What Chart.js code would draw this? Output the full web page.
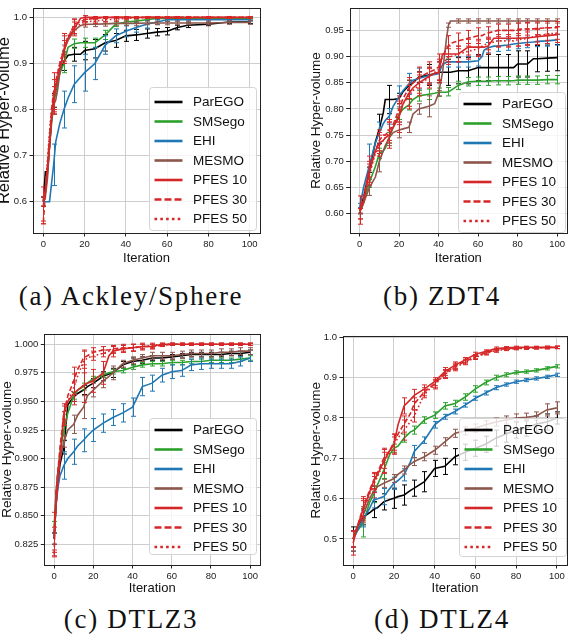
<!DOCTYPE html>
<html>
<head>
<meta charset="utf-8">
<script src="https://cdn.jsdelivr.net/npm/chart.js@4.4.1/dist/chart.umd.min.js"></script>
<style>
  body { margin: 0; background: #fff; width: 574px; height: 636px; position: relative; overflow: hidden; }
  canvas { position: absolute; }
  .cap { position: absolute; font-family: "Liberation Serif", "Times New Roman", serif; font-size: 27px;
         line-height: 27px; letter-spacing: 1.7px; white-space: nowrap; transform: translateX(-50%); color: #111; }
</style>
</head>
<body>
<canvas id="ca" width="287" height="267" style="left:0;top:0"></canvas>
<canvas id="cb" width="287" height="267" style="left:287px;top:0"></canvas>
<canvas id="cc" width="287" height="283" style="left:0;top:315px"></canvas>
<canvas id="cd" width="287" height="283" style="left:287px;top:315px"></canvas>
<div class="cap" style="left:131px;top:283px">(a) Ackley/Sphere</div>
<div class="cap" style="left:442px;top:283px">(b) ZDT4</div>
<div class="cap" style="left:131px;top:606px">(c) DTLZ3</div>
<div class="cap" style="left:442px;top:606px">(d) DTLZ4</div>
<script>
  // ---- shared ----
  var NAMES = ['ParEGO', 'SMSego', 'EHI', 'MESMO', 'PFES 10', 'PFES 30', 'PFES 50'];
  var ERR_X = [0, 5, 10, 15, 20, 25, 30, 35, 40, 45, 50, 55, 60, 65, 70, 75, 80, 85, 90, 95, 100];
  var X_TICKS = [0, 20, 40, 60, 80, 100];

  // ---- (a) Ackley/Sphere ----
  var A_X = [0, 1, 2, 3, 4, 5, 6, 7, 8, 10, 12, 15, 18, 20, 25, 30, 35, 40, 45, 50, 55, 60, 65, 70, 80, 90, 100];
  var A_PAREGO = [0.600, 0.665, 0.665, 0.720, 0.780, 0.820, 0.840, 0.860, 0.880, 0.905, 0.918, 0.920, 0.920, 0.928, 0.932, 0.945, 0.950, 0.960, 0.962, 0.965, 0.968, 0.970, 0.978, 0.983, 0.985, 0.990, 0.990];
  var A_SMSEGO = [0.600, 0.620, 0.660, 0.720, 0.770, 0.810, 0.840, 0.865, 0.880, 0.900, 0.935, 0.943, 0.945, 0.945, 0.945, 0.962, 0.985, 0.990, 0.992, 0.995, 0.998, 0.998, 0.998, 0.998, 0.998, 0.998, 0.998];
  var A_EHI = [0.600, 0.600, 0.600, 0.600, 0.640, 0.680, 0.730, 0.750, 0.770, 0.800, 0.825, 0.855, 0.870, 0.880, 0.900, 0.940, 0.960, 0.970, 0.978, 0.985, 0.990, 0.995, 0.995, 0.995, 0.995, 0.995, 0.995];
  var A_MESMO = [0.600, 0.610, 0.650, 0.720, 0.780, 0.810, 0.820, 0.845, 0.880, 0.930, 0.950, 0.972, 0.982, 0.985, 0.985, 0.986, 0.987, 0.987, 0.987, 0.988, 0.988, 0.988, 0.988, 0.988, 0.988, 0.989, 0.989];
  var A_PFES10 = [0.592, 0.620, 0.670, 0.720, 0.780, 0.820, 0.850, 0.870, 0.890, 0.925, 0.955, 0.975, 0.998, 1.000, 1.000, 1.000, 1.000, 1.000, 1.000, 1.000, 1.000, 1.000, 1.000, 1.000, 1.000, 1.000, 1.000];
  var A_PFES30 = [0.555, 0.620, 0.680, 0.740, 0.800, 0.840, 0.860, 0.880, 0.900, 0.930, 0.955, 0.985, 0.990, 0.995, 0.998, 1.000, 1.000, 1.000, 1.000, 1.000, 1.000, 1.000, 1.000, 1.000, 1.000, 1.000, 1.000];
  var A_PFES50 = [0.600, 0.630, 0.690, 0.750, 0.800, 0.830, 0.860, 0.880, 0.900, 0.935, 0.960, 0.980, 0.985, 0.990, 0.992, 0.995, 0.996, 0.998, 0.999, 1.000, 1.000, 1.000, 1.000, 1.000, 1.000, 1.000, 1.000];
  var A_PAREGO_ERR = [0.010, 0.015, 0.020, 0.015, 0.020, 0.020, 0.018, 0.015, 0.012, 0.012, 0.010, 0.008, 0.008, 0.005, 0.005, 0.004, 0.003, 0.003, 0.003, 0.003, 0.003];
  var A_SMSEGO_ERR = [0.010, 0.020, 0.020, 0.010, 0.010, 0.010, 0.010, 0.005, 0.004, 0.003, 0.002, 0.002, 0.002, 0.002, 0.002, 0.002, 0.002, 0.002, 0.002, 0.002, 0.002];
  var A_EHI_ERR = [0.010, 0.045, 0.040, 0.040, 0.040, 0.035, 0.020, 0.015, 0.012, 0.010, 0.008, 0.005, 0.004, 0.003, 0.003, 0.003, 0.003, 0.003, 0.003, 0.003, 0.003];
  var A_MESMO_ERR = [0.010, 0.020, 0.010, 0.008, 0.006, 0.005, 0.005, 0.005, 0.005, 0.005, 0.004, 0.004, 0.004, 0.004, 0.004, 0.004, 0.004, 0.004, 0.004, 0.004, 0.004];
  var A_PFES10_ERR = [0.040, 0.030, 0.025, 0.015, 0.004, 0.002, 0.002, 0.002, 0.002, 0.002, 0.002, 0.002, 0.002, 0.002, 0.002, 0.002, 0.002, 0.002, 0.002, 0.002, 0.002];
  var A_PFES30_ERR = [0.003, 0.040, 0.030, 0.012, 0.005, 0.003, 0.002, 0.002, 0.002, 0.002, 0.002, 0.002, 0.002, 0.002, 0.002, 0.002, 0.002, 0.002, 0.002, 0.002, 0.002];
  var A_PFES50_ERR = [0.010, 0.035, 0.030, 0.015, 0.006, 0.005, 0.005, 0.004, 0.003, 0.002, 0.002, 0.002, 0.002, 0.002, 0.002, 0.002, 0.002, 0.002, 0.002, 0.002, 0.002];
  var A_YTICKS = [0.6, 0.7, 0.8, 0.9, 1.0];

  // ---- (b) ZDT4 ----
  var B_X = [0, 2, 5, 8, 10, 12, 13, 15, 17, 20, 22, 25, 27, 30, 35, 38, 40, 42, 44, 45, 46, 50, 55, 60, 62, 63, 65, 68, 70, 75, 78, 80, 85, 88, 90, 95, 100];
  var B_PAREGO = [0.606, 0.630, 0.684, 0.737, 0.762, 0.793, 0.818, 0.818, 0.818, 0.820, 0.833, 0.845, 0.850, 0.861, 0.865, 0.867, 0.870, 0.870, 0.870, 0.870, 0.870, 0.873, 0.873, 0.879, 0.879, 0.879, 0.879, 0.879, 0.879, 0.879, 0.879, 0.886, 0.886, 0.896, 0.896, 0.897, 0.898];
  var B_SMSEGO = [0.605, 0.620, 0.660, 0.690, 0.715, 0.720, 0.725, 0.745, 0.765, 0.790, 0.800, 0.808, 0.818, 0.825, 0.828, 0.830, 0.832, 0.832, 0.832, 0.833, 0.835, 0.845, 0.852, 0.853, 0.853, 0.853, 0.853, 0.854, 0.854, 0.854, 0.854, 0.855, 0.855, 0.855, 0.855, 0.856, 0.856];
  var B_EHI = [0.610, 0.650, 0.693, 0.735, 0.755, 0.772, 0.778, 0.786, 0.805, 0.824, 0.835, 0.848, 0.855, 0.858, 0.864, 0.866, 0.867, 0.885, 0.889, 0.890, 0.890, 0.890, 0.890, 0.892, 0.900, 0.912, 0.917, 0.920, 0.920, 0.922, 0.924, 0.925, 0.927, 0.928, 0.929, 0.930, 0.932];
  var B_MESMO = [0.605, 0.620, 0.650, 0.670, 0.700, 0.720, 0.730, 0.745, 0.755, 0.760, 0.762, 0.765, 0.790, 0.800, 0.805, 0.810, 0.830, 0.870, 0.935, 0.960, 0.968, 0.968, 0.968, 0.968, 0.968, 0.968, 0.968, 0.968, 0.968, 0.968, 0.968, 0.968, 0.968, 0.968, 0.968, 0.968, 0.968];
  var B_PFES10 = [0.607, 0.625, 0.680, 0.720, 0.735, 0.740, 0.745, 0.750, 0.765, 0.785, 0.810, 0.830, 0.840, 0.850, 0.862, 0.868, 0.870, 0.905, 0.905, 0.905, 0.905, 0.905, 0.918, 0.918, 0.918, 0.918, 0.920, 0.935, 0.935, 0.935, 0.935, 0.935, 0.936, 0.937, 0.938, 0.940, 0.942];
  var B_PFES30 = [0.600, 0.630, 0.690, 0.720, 0.740, 0.750, 0.750, 0.760, 0.770, 0.800, 0.820, 0.840, 0.850, 0.860, 0.870, 0.875, 0.880, 0.900, 0.915, 0.920, 0.925, 0.930, 0.935, 0.940, 0.940, 0.942, 0.945, 0.948, 0.950, 0.950, 0.950, 0.952, 0.953, 0.953, 0.954, 0.955, 0.955];
  var B_PFES50 = [0.600, 0.620, 0.675, 0.715, 0.730, 0.740, 0.745, 0.755, 0.770, 0.790, 0.810, 0.825, 0.835, 0.845, 0.860, 0.870, 0.875, 0.885, 0.895, 0.900, 0.900, 0.905, 0.910, 0.915, 0.920, 0.922, 0.925, 0.928, 0.930, 0.930, 0.930, 0.932, 0.935, 0.938, 0.940, 0.943, 0.945];
  var B_PAREGO_ERR = [0.005, 0.005, 0.028, 0.027, 0.010, 0.010, 0.010, 0.020, 0.020, 0.025, 0.025, 0.025, 0.025, 0.025, 0.025, 0.025, 0.025, 0.025, 0.025, 0.025, 0.025];
  var B_SMSEGO_ERR = [0.005, 0.010, 0.010, 0.010, 0.010, 0.010, 0.010, 0.010, 0.008, 0.008, 0.008, 0.008, 0.008, 0.008, 0.008, 0.008, 0.008, 0.008, 0.008, 0.008, 0.008];
  var B_EHI_ERR = [0.010, 0.040, 0.020, 0.015, 0.020, 0.020, 0.020, 0.015, 0.012, 0.010, 0.010, 0.010, 0.010, 0.010, 0.010, 0.010, 0.010, 0.010, 0.010, 0.010, 0.010];
  var B_MESMO_ERR = [0.005, 0.015, 0.020, 0.015, 0.015, 0.010, 0.010, 0.020, 0.005, 0.004, 0.004, 0.004, 0.004, 0.004, 0.004, 0.004, 0.004, 0.004, 0.004, 0.004, 0.004];
  var B_PFES10_ERR = [0.027, 0.020, 0.020, 0.025, 0.030, 0.030, 0.020, 0.015, 0.020, 0.015, 0.015, 0.015, 0.015, 0.015, 0.015, 0.015, 0.015, 0.015, 0.015, 0.015, 0.015];
  var B_PFES30_ERR = [0.010, 0.020, 0.020, 0.020, 0.025, 0.020, 0.020, 0.020, 0.025, 0.020, 0.015, 0.015, 0.015, 0.012, 0.012, 0.012, 0.012, 0.012, 0.012, 0.012, 0.012];
  var B_PFES50_ERR = [0.010, 0.020, 0.020, 0.020, 0.020, 0.020, 0.020, 0.020, 0.020, 0.015, 0.015, 0.015, 0.015, 0.012, 0.012, 0.012, 0.012, 0.012, 0.012, 0.012, 0.012];
  var B_YTICKS = [0.60, 0.65, 0.70, 0.75, 0.80, 0.85, 0.90, 0.95];

  // ---- (c) DTLZ3 ----
  var C_X = [0, 1, 2, 3, 5, 7, 10, 12, 15, 17, 20, 25, 28, 30, 35, 40, 45, 50, 55, 60, 65, 70, 75, 80, 85, 90, 95, 100];
  var C_PAREGO = [0.830, 0.860, 0.880, 0.895, 0.910, 0.947, 0.954, 0.957, 0.960, 0.963, 0.966, 0.972, 0.974, 0.975, 0.982, 0.985, 0.986, 0.988, 0.988, 0.989, 0.990, 0.991, 0.991, 0.991, 0.991, 0.992, 0.992, 0.993];
  var C_SMSEGO = [0.840, 0.870, 0.890, 0.905, 0.925, 0.940, 0.955, 0.960, 0.963, 0.966, 0.970, 0.973, 0.975, 0.976, 0.977, 0.980, 0.982, 0.983, 0.983, 0.984, 0.984, 0.985, 0.985, 0.986, 0.986, 0.986, 0.987, 0.988];
  var C_EHI = [0.830, 0.860, 0.875, 0.885, 0.894, 0.900, 0.906, 0.911, 0.916, 0.920, 0.925, 0.931, 0.934, 0.936, 0.940, 0.945, 0.963, 0.966, 0.973, 0.976, 0.977, 0.982, 0.983, 0.983, 0.983, 0.983, 0.985, 0.988];
  var C_MESMO = [0.830, 0.870, 0.890, 0.900, 0.915, 0.925, 0.930, 0.938, 0.945, 0.955, 0.960, 0.968, 0.972, 0.975, 0.983, 0.986, 0.988, 0.990, 0.990, 0.990, 0.991, 0.992, 0.992, 0.992, 0.993, 0.993, 0.994, 0.994];
  var C_PFES10 = [0.834, 0.860, 0.880, 0.900, 0.940, 0.950, 0.957, 0.960, 0.964, 0.966, 0.968, 0.975, 0.990, 0.994, 0.996, 0.997, 0.998, 0.998, 1.000, 1.000, 1.000, 1.000, 1.000, 1.000, 1.000, 1.000, 1.000, 1.000];
  var C_PFES30 = [0.816, 0.870, 0.890, 0.910, 0.940, 0.955, 0.968, 0.978, 0.988, 0.990, 0.993, 0.995, 0.995, 0.996, 0.997, 0.997, 0.998, 0.998, 0.999, 1.000, 1.000, 1.000, 1.000, 1.000, 1.000, 1.000, 1.000, 1.000];
  var C_PFES50 = [0.830, 0.865, 0.885, 0.905, 0.935, 0.950, 0.962, 0.972, 0.985, 0.988, 0.990, 0.992, 0.994, 0.995, 0.996, 0.997, 0.998, 0.999, 1.000, 1.000, 1.000, 1.000, 1.000, 1.000, 1.000, 1.000, 1.000, 1.000];
  var C_PAREGO_ERR = [0.005, 0.006, 0.004, 0.004, 0.004, 0.004, 0.004, 0.003, 0.003, 0.003, 0.002, 0.002, 0.002, 0.002, 0.002, 0.002, 0.002, 0.002, 0.002, 0.002, 0.002];
  var C_SMSEGO_ERR = [0.005, 0.005, 0.003, 0.003, 0.002, 0.002, 0.002, 0.002, 0.002, 0.002, 0.002, 0.002, 0.002, 0.002, 0.002, 0.002, 0.002, 0.002, 0.002, 0.002, 0.002];
  var C_EHI_ERR = [0.005, 0.012, 0.011, 0.010, 0.010, 0.008, 0.007, 0.008, 0.008, 0.008, 0.007, 0.006, 0.006, 0.005, 0.005, 0.005, 0.004, 0.004, 0.004, 0.004, 0.003];
  var C_MESMO_ERR = [0.005, 0.005, 0.008, 0.010, 0.006, 0.006, 0.006, 0.003, 0.003, 0.003, 0.003, 0.003, 0.003, 0.003, 0.003, 0.003, 0.003, 0.003, 0.003, 0.003, 0.003];
  var C_PFES10_ERR = [0.019, 0.008, 0.010, 0.015, 0.010, 0.010, 0.005, 0.003, 0.003, 0.003, 0.002, 0.001, 0.001, 0.001, 0.001, 0.001, 0.001, 0.001, 0.001, 0.001, 0.001];
  var C_PFES30_ERR = [0.002, 0.006, 0.012, 0.006, 0.004, 0.003, 0.003, 0.003, 0.003, 0.002, 0.002, 0.001, 0.001, 0.001, 0.001, 0.001, 0.001, 0.001, 0.001, 0.001, 0.001];
  var C_PFES50_ERR = [0.010, 0.006, 0.012, 0.010, 0.004, 0.003, 0.003, 0.003, 0.003, 0.002, 0.002, 0.001, 0.001, 0.001, 0.001, 0.001, 0.001, 0.001, 0.001, 0.001, 0.001];
  var C_YTICKS = [0.825, 0.850, 0.875, 0.900, 0.925, 0.950, 0.975, 1.000];

  // ---- (d) DTLZ4 ----
  var D_X = [0, 2, 5, 8, 10, 12, 15, 18, 20, 22, 25, 28, 30, 35, 40, 45, 50, 55, 60, 65, 70, 75, 80, 85, 90, 95, 100];
  var D_PAREGO = [0.500, 0.530, 0.555, 0.565, 0.573, 0.578, 0.592, 0.598, 0.601, 0.605, 0.609, 0.620, 0.626, 0.642, 0.675, 0.680, 0.704, 0.715, 0.725, 0.735, 0.750, 0.760, 0.770, 0.775, 0.785, 0.790, 0.800];
  var D_SMSEGO = [0.500, 0.520, 0.540, 0.590, 0.610, 0.635, 0.670, 0.710, 0.725, 0.730, 0.750, 0.765, 0.770, 0.795, 0.807, 0.830, 0.836, 0.852, 0.872, 0.888, 0.900, 0.907, 0.913, 0.915, 0.918, 0.923, 0.928];
  var D_EHI = [0.500, 0.520, 0.550, 0.575, 0.597, 0.600, 0.605, 0.625, 0.638, 0.645, 0.659, 0.690, 0.717, 0.745, 0.783, 0.803, 0.816, 0.832, 0.849, 0.862, 0.875, 0.883, 0.890, 0.894, 0.898, 0.902, 0.907];
  var D_MESMO = [0.500, 0.530, 0.560, 0.600, 0.617, 0.630, 0.638, 0.645, 0.650, 0.660, 0.671, 0.685, 0.692, 0.704, 0.720, 0.741, 0.762, 0.768, 0.775, 0.783, 0.790, 0.795, 0.800, 0.802, 0.805, 0.820, 0.825];
  var D_PFES10 = [0.490, 0.530, 0.575, 0.615, 0.642, 0.660, 0.692, 0.720, 0.733, 0.783, 0.830, 0.845, 0.856, 0.872, 0.890, 0.915, 0.931, 0.944, 0.958, 0.965, 0.972, 0.974, 0.975, 0.975, 0.975, 0.975, 0.975];
  var D_PFES30 = [0.500, 0.530, 0.580, 0.620, 0.645, 0.665, 0.700, 0.720, 0.740, 0.760, 0.785, 0.810, 0.835, 0.865, 0.885, 0.910, 0.928, 0.940, 0.952, 0.962, 0.968, 0.972, 0.973, 0.974, 0.974, 0.975, 0.975];
  var D_PFES50 = [0.500, 0.525, 0.570, 0.610, 0.635, 0.655, 0.690, 0.715, 0.735, 0.750, 0.770, 0.790, 0.805, 0.860, 0.882, 0.908, 0.925, 0.938, 0.950, 0.960, 0.967, 0.970, 0.972, 0.973, 0.974, 0.974, 0.975];
  var D_PAREGO_ERR = [0.030, 0.020, 0.020, 0.020, 0.025, 0.025, 0.020, 0.025, 0.020, 0.020, 0.020, 0.020, 0.020, 0.020, 0.020, 0.020, 0.020, 0.020, 0.020, 0.020, 0.015];
  var D_SMSEGO_ERR = [0.020, 0.035, 0.020, 0.020, 0.010, 0.010, 0.010, 0.008, 0.008, 0.008, 0.008, 0.008, 0.008, 0.006, 0.006, 0.005, 0.004, 0.004, 0.004, 0.004, 0.004];
  var D_EHI_ERR = [0.020, 0.020, 0.020, 0.020, 0.015, 0.015, 0.015, 0.008, 0.008, 0.006, 0.006, 0.005, 0.005, 0.005, 0.005, 0.004, 0.004, 0.004, 0.004, 0.004, 0.004];
  var D_MESMO_ERR = [0.020, 0.020, 0.015, 0.010, 0.010, 0.010, 0.010, 0.010, 0.010, 0.010, 0.010, 0.010, 0.010, 0.010, 0.010, 0.010, 0.010, 0.010, 0.010, 0.015, 0.015];
  var D_PFES10_ERR = [0.030, 0.025, 0.020, 0.030, 0.020, 0.020, 0.015, 0.010, 0.010, 0.010, 0.008, 0.006, 0.005, 0.004, 0.004, 0.003, 0.003, 0.003, 0.003, 0.003, 0.003];
  var D_PFES30_ERR = [0.020, 0.025, 0.020, 0.025, 0.020, 0.020, 0.015, 0.010, 0.010, 0.010, 0.008, 0.006, 0.005, 0.004, 0.004, 0.003, 0.003, 0.003, 0.003, 0.003, 0.003];
  var D_PFES50_ERR = [0.020, 0.025, 0.020, 0.025, 0.025, 0.025, 0.015, 0.010, 0.010, 0.010, 0.008, 0.006, 0.005, 0.004, 0.004, 0.003, 0.003, 0.003, 0.003, 0.003, 0.003];
  var D_YTICKS = [0.5, 0.6, 0.7, 0.8, 0.9, 1.0];

  // ---- styles ----
  var COLORS = ['#000000', '#2ca02c', '#1f77b4', '#8c564b', '#d62728', '#d62728', '#d62728'];
  var DASHES = [[], [], [], [], [], [5, 2.5], [1.6, 2.4]];
  var LEGEND_DASHES = [[], [], [], [], [], [7, 3], [2.6, 3.2]];
  var FONT = '"Liberation Sans", Arial, Helvetica, sans-serif';
  var GRID = '#c8c8c8';

  // error bars drawn right after each line, so they stack like the lines do
  var errorBars = {
    id: 'errorBars',
    afterDatasetDraw: function(chart, args) {
      var ds = chart.data.datasets[args.index];
      if (!ds.errors) return;
      var xs = chart.scales.x, ys = chart.scales.y, ctx = chart.ctx, a = chart.chartArea;
      ctx.save();
      ctx.beginPath();
      ctx.rect(a.left, a.top, a.right - a.left, a.bottom - a.top);
      ctx.clip();
      ctx.strokeStyle = ds.borderColor;
      ctx.lineWidth = 1;
      ctx.setLineDash([]);
      ERR_X.forEach(function(it, j) {
        var pt = ds.data.find(function(p) { return p.x === it; });
        if (!pt) return;
        var e = ds.errors[j];
        var px = Math.round(xs.getPixelForValue(it)) + 0.5;
        var t = ys.getPixelForValue(pt.y + e), b = ys.getPixelForValue(pt.y - e);
        ctx.beginPath();
        ctx.moveTo(px, t); ctx.lineTo(px, b);
        ctx.moveTo(px - 2.5, t); ctx.lineTo(px + 2.5, t);
        ctx.moveTo(px - 2.5, b); ctx.lineTo(px + 2.5, b);
        ctx.stroke();
      });
      ctx.restore();
    }
  };

  var frame = {
    id: 'frame',
    afterDatasetsDraw: function(chart) {
      var a = chart.chartArea, ctx = chart.ctx;
      ctx.save();
      ctx.strokeStyle = '#222';
      ctx.lineWidth = 1;
      ctx.strokeRect(Math.round(a.left) + 0.5, Math.round(a.top) + 0.5,
                     Math.round(a.right - a.left), Math.round(a.bottom - a.top));
      ctx.restore();
    }
  };

  // legend inside the axes, lower right
  var insideLegend = {
    id: 'insideLegend',
    afterDraw: function(chart, args, opts) {
      var ctx = chart.ctx, a = chart.chartArea;
      var w = 107, h = opts.h;
      var bx = Math.round(a.right - opts.dx - w), by = Math.round(a.top + opts.dy);
      ctx.save();
      ctx.fillStyle = 'rgba(255,255,255,0.8)';
      ctx.strokeStyle = '#d4d4d4';
      ctx.lineWidth = 1;
      ctx.beginPath();
      ctx.roundRect(bx + 0.5, by + 0.5, w, h, 3);
      ctx.fill();
      ctx.stroke();
      ctx.font = '13.5px ' + FONT;
      ctx.textBaseline = 'middle';
      chart.data.datasets.forEach(function(ds, i) {
        var cy = by + opts.pad + i * 19.5;
        ctx.strokeStyle = ds.borderColor;
        ctx.lineWidth = 2.6;
        ctx.setLineDash(LEGEND_DASHES[i]);
        ctx.beginPath();
        ctx.moveTo(bx + 5.5, cy);
        ctx.lineTo(bx + 33.5, cy);
        ctx.stroke();
        ctx.setLineDash([]);
        ctx.fillStyle = '#111';
        ctx.fillText(ds.label, bx + 44, cy + 0.5);
      });
      ctx.restore();
    }
  };

  function makeChart(p) {
    var datasets = NAMES.map(function(name, i) {
      return {
        label: name,
        data: p.x.map(function(x, k) { return { x: x, y: p.series[i][k] }; }),
        errors: p.errs[i],
        borderColor: COLORS[i],
        borderWidth: 1.6,
        borderDash: DASHES[i],
        pointRadius: 0,
        tension: 0,
        fill: false,
        order: NAMES.length - 1 - i
      };
    });

    new Chart(document.getElementById(p.id), {
      type: 'line',
      data: { datasets: datasets },
      options: {
        responsive: false,
        animation: false,
        events: [],
        layout: { padding: p.pad },
        plugins: {
          legend: { display: false },
          tooltip: { enabled: false },
          insideLegend: p.legend
        },
        scales: {
          x: {
            type: 'linear',
            min: -5,
            max: 105,
            afterBuildTicks: function(s) { s.ticks = X_TICKS.map(function(v) { return { value: v }; }); },
            afterFit: function(s) { s.height = p.xHeight; },
            border: { display: false },
            grid: { color: GRID, lineWidth: 0.9, tickLength: 3.5, tickColor: '#222', tickWidth: 1 },
            ticks: { font: { size: 9.5, family: FONT }, color: '#222', padding: 2, maxRotation: 0, autoSkip: false },
            title: { display: true, text: 'Iteration', color: '#111',
                     font: { size: 13, family: FONT }, padding: { top: 0, bottom: p.xTitlePad } }
          },
          y: {
            type: 'linear',
            min: p.yMin,
            max: p.yMax,
            afterBuildTicks: function(s) { s.ticks = p.yTicks.map(function(v) { return { value: v }; }); },
            afterFit: function(s) { s.width = p.yWidth; },
            border: { display: false },
            grid: { color: GRID, lineWidth: 0.9, tickLength: 3.5, tickColor: '#222', tickWidth: 1 },
            ticks: {
              font: { size: 9.5, family: FONT }, color: '#222', padding: 2.5, autoSkip: false,
              callback: function(v) { return Number(v).toFixed(p.dec); }
            },
            title: { display: true, text: 'Relative Hyper-volume', color: '#111',
                     font: { size: p.yTitleSize, family: FONT }, padding: { top: p.yTitlePad, bottom: 0 } }
          }
        }
      },
      plugins: [errorBars, frame, insideLegend]
    });
  }

  makeChart({
    id: 'ca', x: A_X,
    series: [A_PAREGO, A_SMSEGO, A_EHI, A_MESMO, A_PFES10, A_PFES30, A_PFES50],
    errs: [A_PAREGO_ERR, A_SMSEGO_ERR, A_EHI_ERR, A_MESMO_ERR, A_PFES10_ERR, A_PFES30_ERR, A_PFES50_ERR],
    yTicks: A_YTICKS, dec: 1, yMin: 0.532, yMax: 1.020,
    pad: { left: 0, top: 4, right: 27, bottom: 0 }, yWidth: 33, xHeight: 34, xTitlePad: 0.5,
    yTitleSize: 16.5, yTitlePad: -5,
    legend: { dx: 4, dy: 79, h: 143, pad: 15 }
  });

  makeChart({
    id: 'cb', x: B_X,
    series: [B_PAREGO, B_SMSEGO, B_EHI, B_MESMO, B_PFES10, B_PFES30, B_PFES50],
    errs: [B_PAREGO_ERR, B_SMSEGO_ERR, B_EHI_ERR, B_MESMO_ERR, B_PFES10_ERR, B_PFES30_ERR, B_PFES50_ERR],
    yTicks: B_YTICKS, dec: 2, yMin: 0.5632, yMax: 0.9924,
    pad: { left: 0, top: 3, right: 7, bottom: 0 }, yWidth: 62.7, xHeight: 34, xTitlePad: 0.5,
    yTitleSize: 13.5, yTitlePad: 21,
    legend: { dx: 2, dy: 84, h: 140, pad: 12 }
  });

  makeChart({
    id: 'cc', x: C_X,
    series: [C_PAREGO, C_SMSEGO, C_EHI, C_MESMO, C_PFES10, C_PFES30, C_PFES50],
    errs: [C_PAREGO_ERR, C_SMSEGO_ERR, C_EHI_ERR, C_MESMO_ERR, C_PFES10_ERR, C_PFES30_ERR, C_PFES50_ERR],
    yTicks: C_YTICKS, dec: 3, yMin: 0.8069, yMax: 1.009,
    pad: { left: 0, top: 19, right: 27, bottom: 0 }, yWidth: 44.3, xHeight: 33, xTitlePad: 2,
    yTitleSize: 13.5, yTitlePad: -0.5,
    legend: { dx: 4, dy: 84, h: 136, pad: 12 }
  });

  makeChart({
    id: 'cd', x: D_X,
    series: [D_PAREGO, D_SMSEGO, D_EHI, D_MESMO, D_PFES10, D_PFES30, D_PFES50],
    errs: [D_PAREGO_ERR, D_SMSEGO_ERR, D_EHI_ERR, D_MESMO_ERR, D_PFES10_ERR, D_PFES30_ERR, D_PFES50_ERR],
    yTicks: D_YTICKS, dec: 1, yMin: 0.4355, yMax: 1.004,
    pad: { left: 0, top: 20.7, right: 7, bottom: 0 }, yWidth: 56, xHeight: 33, xTitlePad: 2,
    yTitleSize: 13.5, yTitlePad: 21.2,
    legend: { dx: 1, dy: 82, h: 138, pad: 12 }
  });
</script>
</body>
</html>
